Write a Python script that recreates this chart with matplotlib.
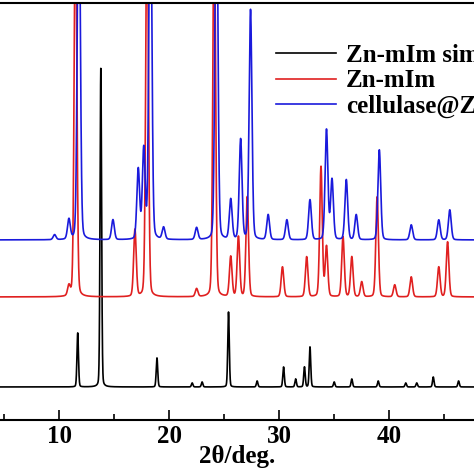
import numpy as np
import matplotlib.pyplot as plt
from matplotlib.ticker import MultipleLocator

plt.rcParams['font.family'] = ['Liberation Serif']
plt.rcParams['font.weight'] = 'bold'

# peak positions (2theta) and heights
sim_pos = [11.7, 13.8, 18.9, 22.1, 23.0, 25.4, 28.0, 30.4, 31.5, 32.3, 32.8, 35.0, 36.6, 39.0, 41.5, 42.5, 44.0, 46.3]
sim_hgt = [54, 319, 29, 4, 5, 75, 6, 20, 8, 20, 40, 5, 8, 6, 4, 4, 10, 6]
zn_pos = [10.9, 11.5, 16.9, 18.0, 22.5, 24.1, 25.6, 26.3, 27.1, 30.3, 32.5, 33.8, 34.3, 35.8, 36.6, 37.5, 38.9, 40.5, 42.0, 44.5, 45.3]
zn_hgt = [10, 400, 67, 400, 8, 400, 40, 60, 100, 30, 40, 130, 50, 60, 40, 15, 100, 12, 20, 30, 55]
cel_pos = [9.6, 10.9, 11.8, 14.9, 17.2, 17.7, 18.3, 19.5, 22.5, 24.3, 25.6, 26.5, 27.4, 29.0, 30.7, 32.8, 34.3, 34.8, 36.1, 37.0, 39.1, 42.0, 44.5, 45.5]
cel_hgt = [5, 20, 400, 20, 70, 90, 400, 12, 12, 400, 40, 100, 230, 25, 20, 40, 110, 60, 60, 25, 90, 15, 20, 30]
offsets = [33, 123, 180]

x = np.linspace(4, 48, 5000)

def pattern(pos, hgt, w, base):
    y = np.full_like(x, base, dtype=float)
    for p, h in zip(pos, hgt):
        g = np.exp(-0.5 * ((x - p) / w) ** 2)
        l = 1 / (1 + ((x - p) / w) ** 2)
        y += h * (0.8 * g + 0.2 * l)
    return y

fig = plt.figure(figsize=(4.74, 4.74), dpi=100)
ax = fig.add_axes([0, 0.114, 1, 0.88])
ax.plot(x, pattern(sim_pos, sim_hgt, 0.07, offsets[0]), color='black', lw=1.2, label='Zn-mIm simulated')
ax.plot(x, pattern(zn_pos, zn_hgt, 0.12, offsets[1]), color='#e02020', lw=1.2, label='Zn-mIm')
ax.plot(x, pattern(cel_pos, cel_hgt, 0.13, offsets[2]), color='#1a1adc', lw=1.2, label='cellulase@Zn-mIm')

ax.set_xlim(4.64, 47.7)
ax.set_ylim(0, 417)
ax.spines['left'].set_visible(False)
ax.spines['right'].set_visible(False)
ax.spines['top'].set_linewidth(1.5)
ax.spines['bottom'].set_linewidth(1.5)
ax.set_yticks([])
ax.xaxis.set_major_locator(MultipleLocator(10))
ax.xaxis.set_minor_locator(MultipleLocator(5))
ax.tick_params(axis='x', which='major', direction='in', length=7, width=1.2, labelsize=18)
ax.tick_params(axis='x', which='minor', direction='in', length=4, width=1.2)
ax.set_xlabel('2θ/deg.', fontsize=18, fontweight='bold', labelpad=-2)

fig.legend(loc='upper left', bbox_to_anchor=(0.535, 0.955), frameon=False,
           prop={'size': 18, 'weight': 'bold'}, handlelength=2.4, handletextpad=0.4,
           labelspacing=0.1)
fig.savefig('out.png', dpi=100)
